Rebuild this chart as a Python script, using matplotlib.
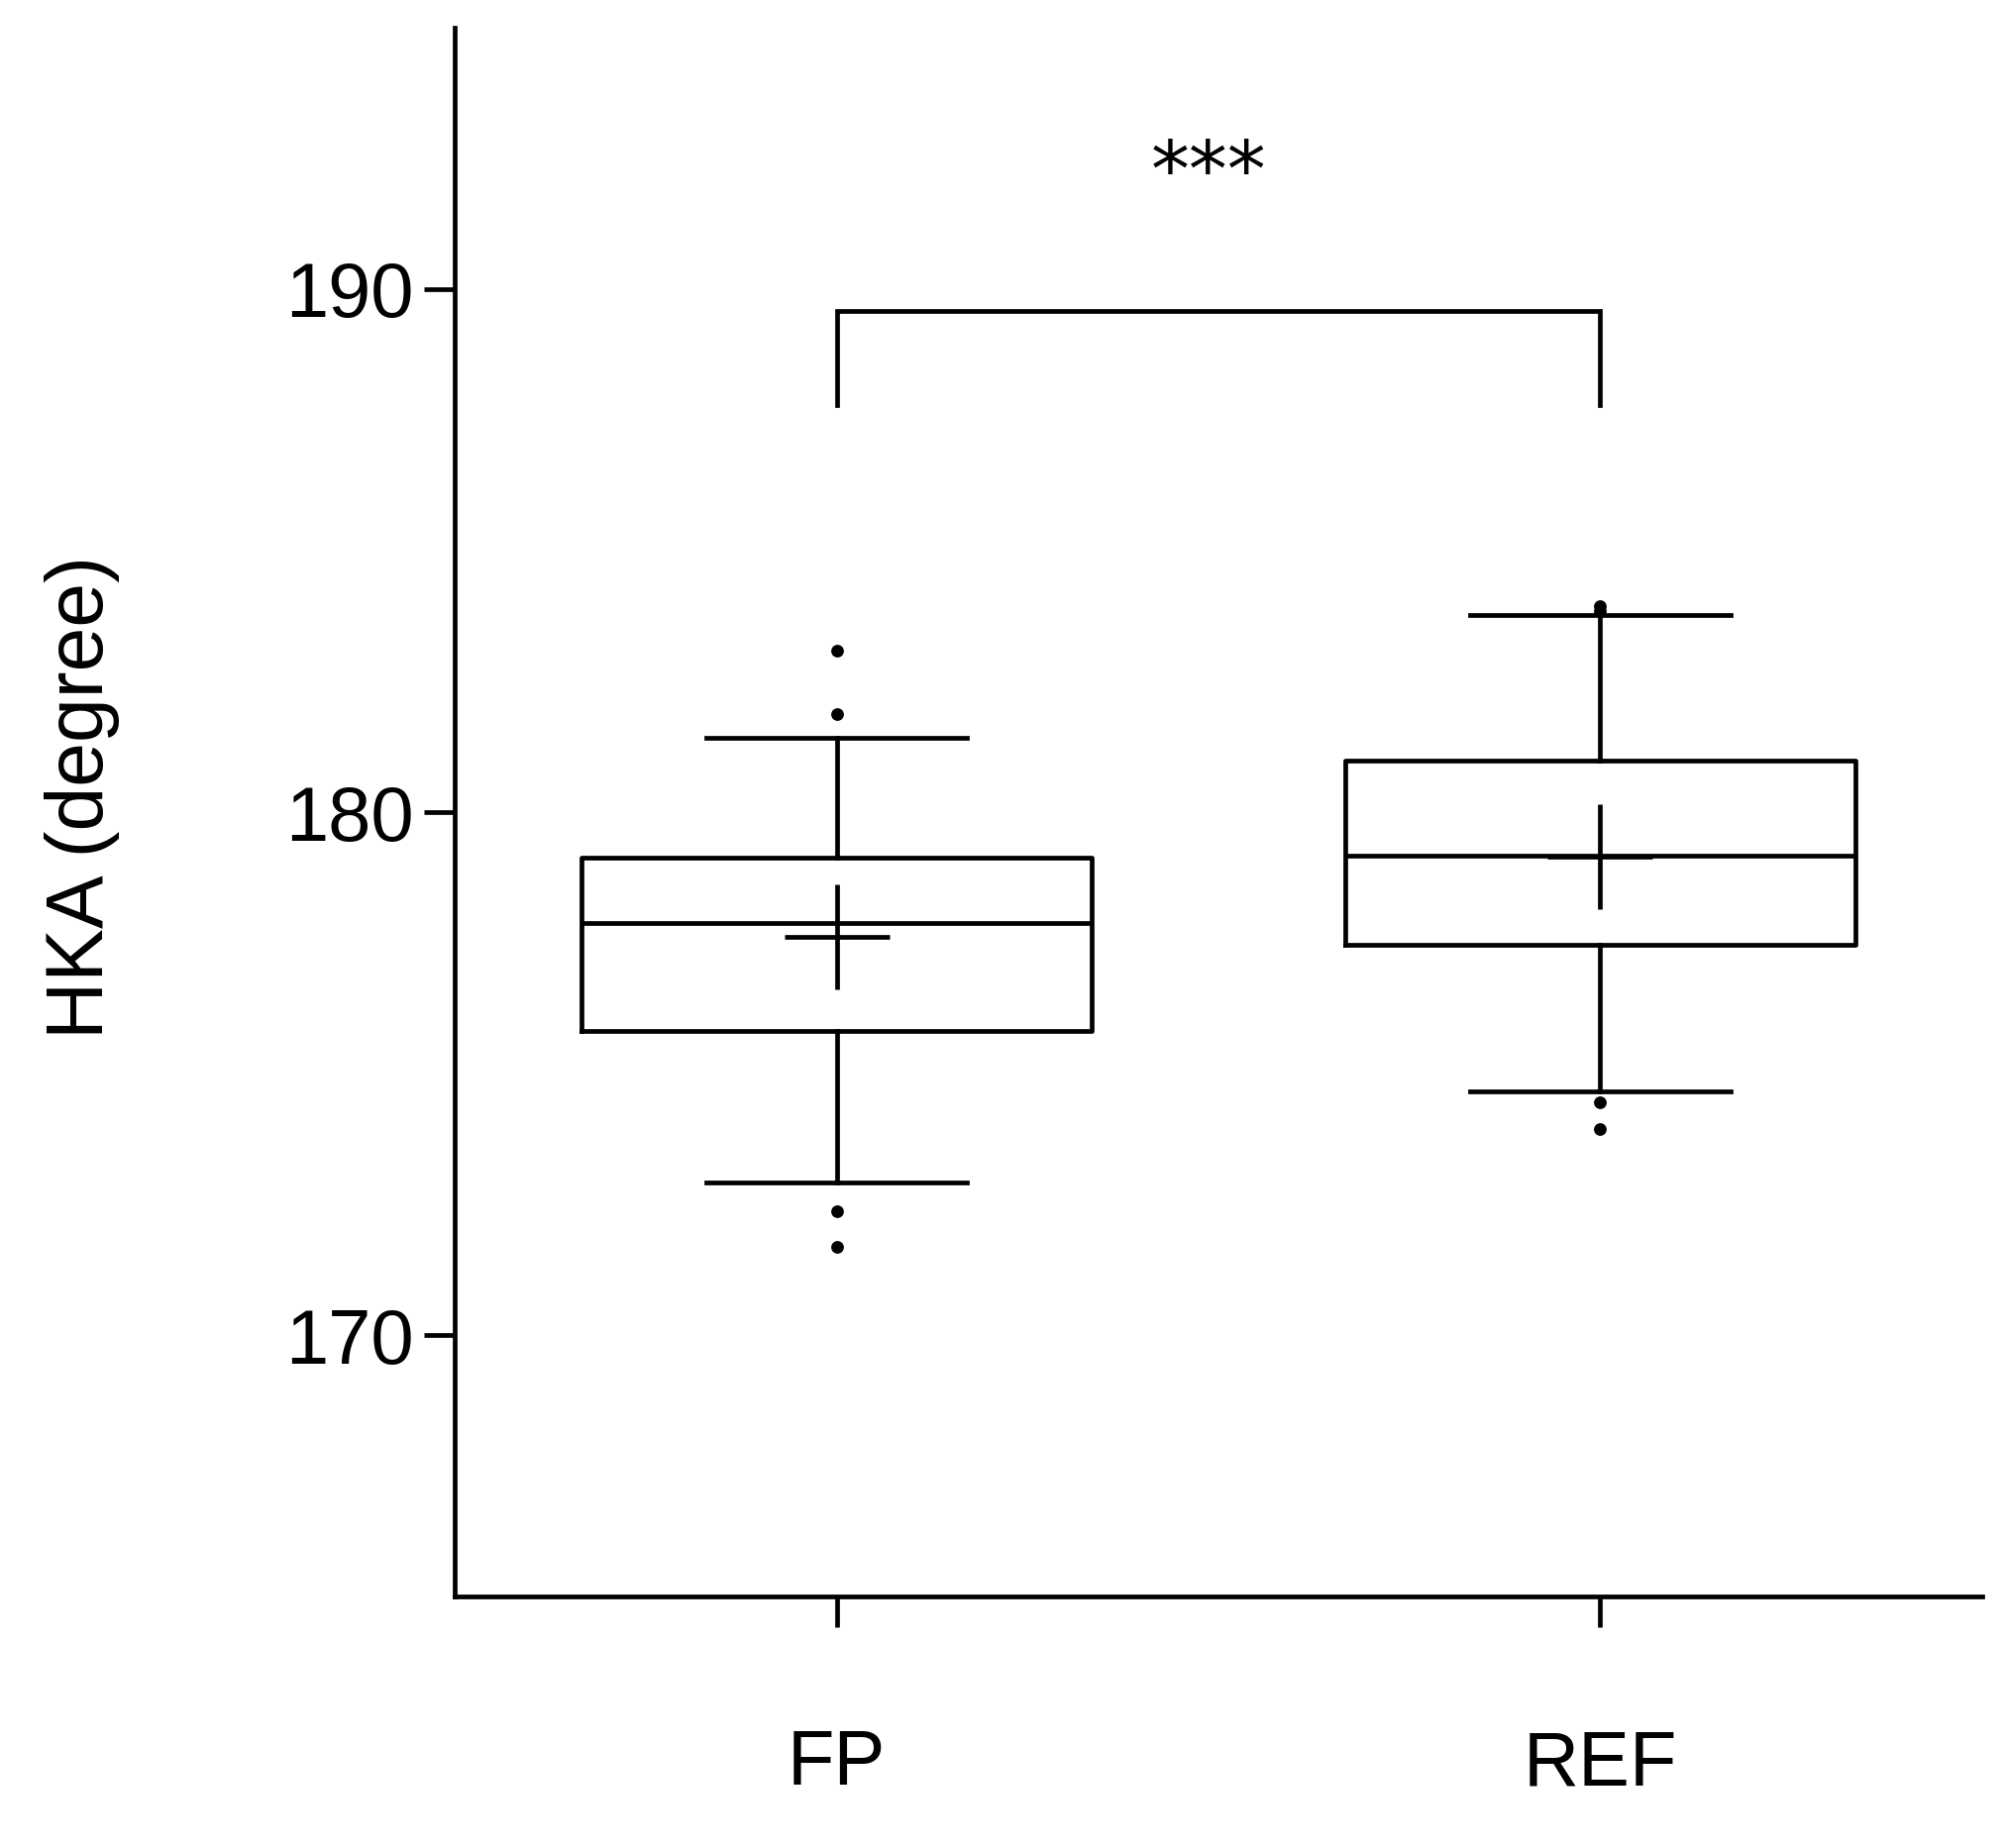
import matplotlib.pyplot as plt
import numpy as np

# Box statistics (HKA, degrees)
groups = ["FP", "REF"]
q1 = [175.81, 177.46]
medians = [177.88, 179.17]
q3 = [179.12, 180.98]
whisker_low = [172.91, 174.66]
whisker_high = [181.42, 183.77]
means = [177.62, 179.14]
fliers_fp = [183.09, 181.87, 172.37, 171.69]
fliers_ref = [183.94, 183.85, 174.46, 173.94]

# significance bracket between the two groups
bracket_top = 189.58
bracket_bottom = 187.78
star_y = 192.2
star_text = "***"

plt.rcParams["font.family"] = ["Liberation Sans", "DejaVu Sans"]
lw = 1.7

fig = plt.figure(figsize=(10.12, 9.33), dpi=200)
ax = fig.add_axes([0.2268, 0.1361, 0.7618, 0.8489])

positions = np.arange(1, len(groups) + 1)
stats = []
for i, name in enumerate(groups):
    stats.append({
        "label": name,
        "q1": q1[i], "med": medians[i], "q3": q3[i],
        "whislo": whisker_low[i], "whishi": whisker_high[i],
        "mean": means[i],
        "fliers": np.array([fliers_fp, fliers_ref][i]),
    })

line_style = dict(color="black", linewidth=lw)
ax.bxp(
    stats, positions=positions, widths=0.667, capwidths=0.34,
    showmeans=True, showfliers=True,
    boxprops=line_style, medianprops=line_style,
    whiskerprops=line_style, capprops=line_style,
    meanprops=dict(marker="+", markersize=38, markeredgewidth=lw,
                   markeredgecolor="black", color="black"),
    flierprops=dict(marker="o", markersize=3.6, markerfacecolor="black",
                    markeredgecolor="black", linestyle="none"),
)

# significance bracket
ax.plot([positions[0], positions[0], positions[1], positions[1]],
        [bracket_bottom, bracket_top, bracket_top, bracket_bottom],
        color="black", linewidth=lw, solid_joinstyle="miter")
ax.text(positions.mean() - 0.013, star_y, star_text, ha="center", va="center",
        fontsize=28, family="DejaVu Sans")

ax.set_xlim(0.5, 2.5)
ax.set_ylim(165, 195)
ax.set_yticks([170, 180, 190])
ax.set_xticks(positions)
ax.set_xticklabels(groups)

for side in ["top", "right"]:
    ax.spines[side].set_visible(False)
for side in ["left", "bottom"]:
    ax.spines[side].set_linewidth(lw)

ax.tick_params(axis="both", direction="out", length=11, width=lw, labelsize=28)
ax.tick_params(axis="y", pad=4)
ax.tick_params(axis="x", pad=37)

ax.set_ylabel("HKA (degree)", fontsize=29)
ax.yaxis.label.set_verticalalignment("center")
ax.yaxis.set_label_coords(-0.244, 0.5095)

fig.savefig("out.png", dpi=200)
